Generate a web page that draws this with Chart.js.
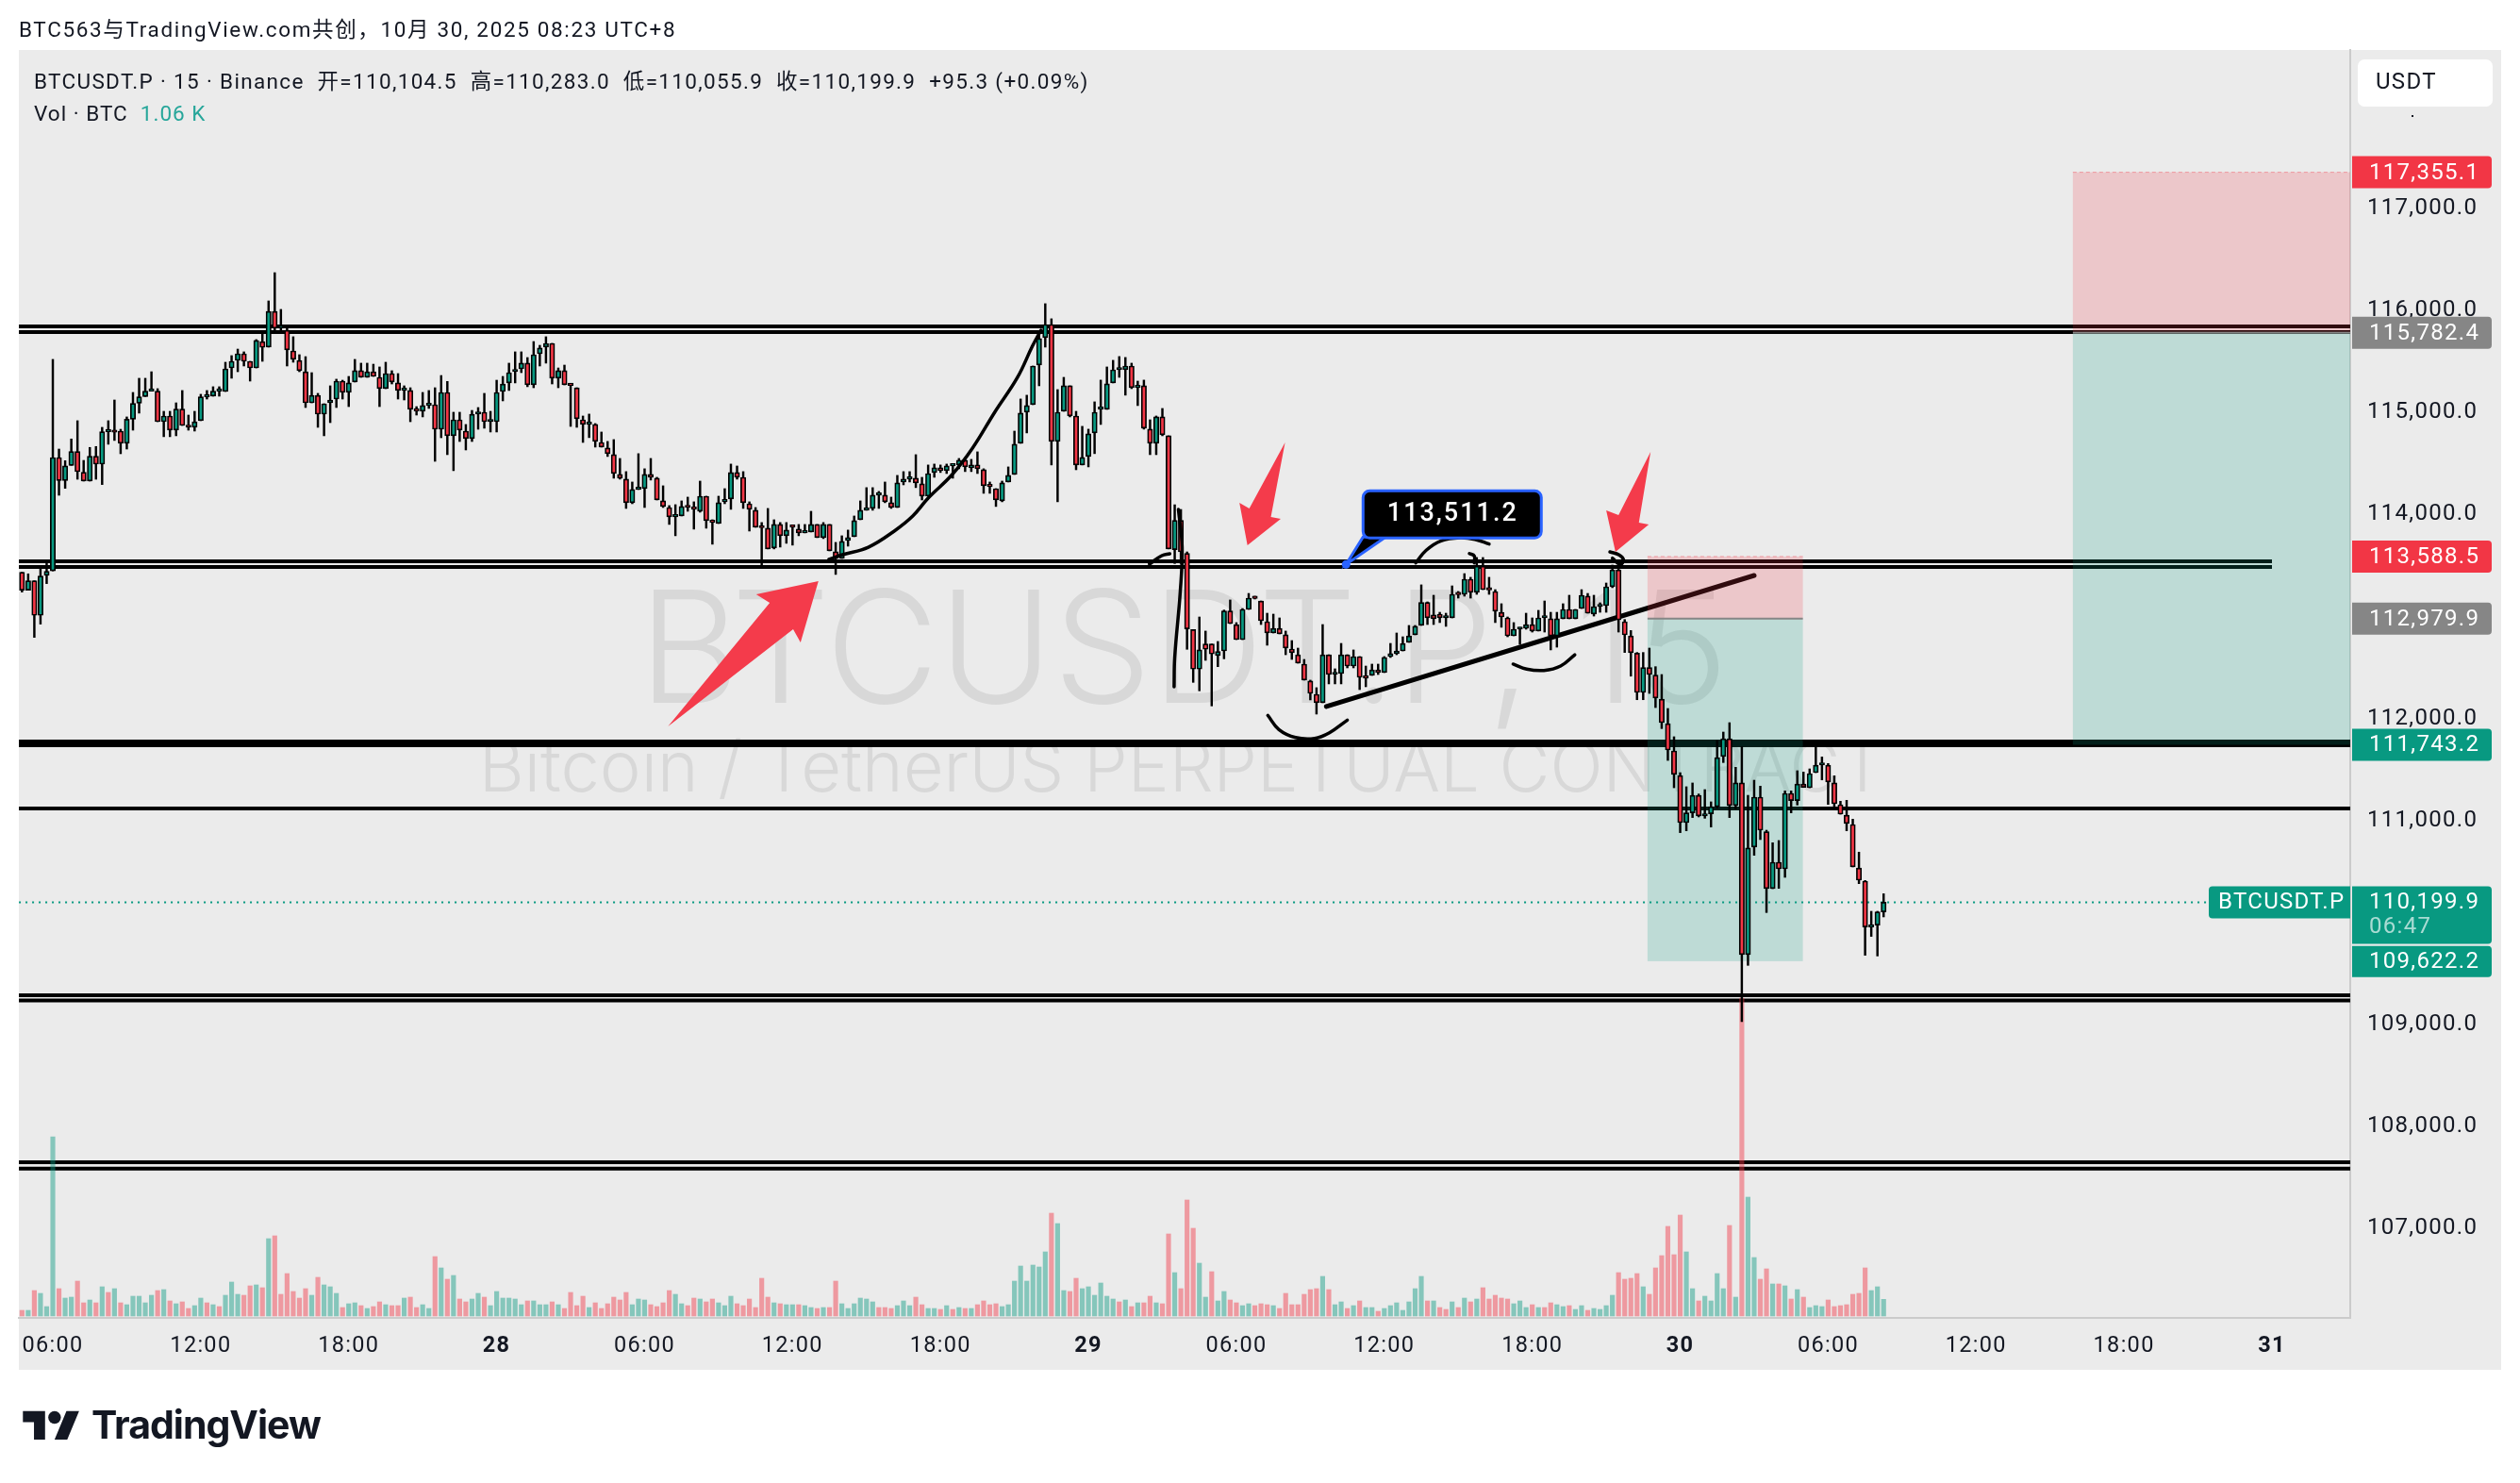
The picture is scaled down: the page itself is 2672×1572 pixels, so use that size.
<!DOCTYPE html>
<html>
<head>
<meta charset="utf-8">
<title>BTCUSDT.P 15</title>
<script src="https://cdn.jsdelivr.net/npm/chart.js"></script>
<style>
  html, body { margin: 0; padding: 0; background: #fff; width: 2672px; height: 1572px; overflow: hidden; }
  body { font-family: Roboto, "Noto Sans CJK SC", sans-serif; color: #131722; }
  canvas { position: absolute; left: 0; top: 0; }
  .txt { position: absolute; white-space: pre; line-height: 1; }
  #head { left: 20px; top: 20px; font-size: 22.5px; letter-spacing: 1.65px; }
  #legend1 { left: 36px; top: 75px; font-size: 22.5px; letter-spacing: 1.33px; }
  #legend2 { left: 36px; top: 109px; font-size: 22.5px; letter-spacing: 1px; }
  #legend2 span { color: #26a69a; }
  #logo { position: absolute; left: 24px; top: 1489px; }
  #brand { left: 97px; top: 1490px; font-family: Inter, sans-serif; font-size: 41px; font-weight: 700; letter-spacing: -1px; }
</style>
</head>
<body>
<canvas id="chart" width="2672" height="1572"></canvas>
<div class="txt" id="head">BTC563与TradingView.com共创，10月 30, 2025 08:23 UTC+8</div>
<div class="txt" id="legend1">BTCUSDT.P · 15 · Binance  开=110,104.5  高=110,283.0  低=110,055.9  收=110,199.9  +95.3 (+0.09%)</div>
<div class="txt" id="legend2">Vol · BTC  <span>1.06 K</span></div>
<svg id="logo" width="61" height="47" viewBox="0 0 36 28"><path fill="#131722" d="M14 22H7V11H0V4h14v18zM28 22h-8l7.5-18h8L28 22z"/><circle fill="#131722" cx="20" cy="8" r="4"/></svg>
<div class="txt" id="brand">TradingView</div>

<script>
// bars run from -5 (04:45 on the 27th) to 297 (08:15 on the 30th), 0 is 06:00
const firstBar = -5;

const opens = [
  113434,113258,113351,113012,113403,113447,114559,114334,114482,114618,
  114414,114328,114571,114494,114812,114818,114818,114698,114935,115092,
  115157,115209,115209,114910,114966,114827,115034,114864,114855,114920,
  115154,115160,115209,115206,115437,115511,115576,115502,115437,115696,
  115641,115992,115826,115807,115604,115511,115400,115095,115169,114984,
  115095,115132,115308,115197,115299,115410,115345,115400,115345,115234,
  115382,115290,115216,115216,115031,115012,115068,115077,114836,115197,
  114772,114929,114818,114744,114984,115003,114910,114910,115206,115290,
  115400,115428,115484,115271,115576,115641,115678,115336,115410,115271,
  115243,114929,114883,114883,114707,114652,114587,114393,114347,114116,
  114245,114254,114393,114356,114134,114069,113977,113986,114079,114069,
  114032,114180,113940,113912,114125,114153,114412,114365,114106,114042,
  113875,113866,113672,113903,113792,113880,113857,113820,113829,113903,
  113774,113903,113635,113570,113746,113783,113949,114042,114060,114190,
  114190,114116,114069,114319,114347,114356,114301,114180,114412,114458,
  114430,114476,114486,114532,114458,114486,114439,114282,114254,114134,
  114319,114393,114698,115003,115077,115466,115734,115863,114717,115012,
  115262,114966,114486,114569,114800,115031,115031,115290,115419,115419,
  115456,115244,115262,114837,114698,114957,114772,113656,113942,113619,
  112873,112485,112731,112731,112617,112663,113055,112922,112774,113070,
  113181,113153,112950,112839,112885,112821,112682,112626,112534,112368,
  112238,112155,112626,112432,112441,112626,112515,112608,112404,112423,
  112478,112451,112608,112636,112663,112747,112821,112913,113138,113015,
  113024,112987,112987,113218,113218,113366,113237,113495,113264,113246,
  113042,112987,112811,112876,112885,112922,112858,112987,112978,112811,
  112978,113070,112978,113079,113200,113024,113098,113107,113292,113458,
  112950,112811,112641,112256,112500,112426,112191,111951,111683,111442,
  110980,111076,111248,111045,111067,111137,111628,111803,111147,111369,
  109686,110740,111230,110891,110333,110592,110527,111267,111196,111359,
  111322,111470,111544,111544,111369,111156,111054,110962,110536,110407,
  109957,109976,110104.5
];
const highs = [
  113434,113419,113351,113474,113527,115521,114642,114528,114741,114920,
  114531,114658,114667,114855,114920,115123,114836,114957,115197,115336,
  115336,115400,115234,115012,115012,115095,115216,114975,115012,115179,
  115216,115253,115253,115493,115558,115622,115595,115502,115715,115789,
  116094,116371,116011,115826,115743,115567,115548,115391,115188,115086,
  115262,115327,115317,115354,115521,115484,115484,115474,115447,115493,
  115410,115382,115262,115243,115058,115197,115216,115243,115363,115305,
  115003,115003,114883,115021,115049,115188,115012,115317,115354,115484,
  115595,115595,115539,115696,115659,115743,115678,115437,115465,115275,
  115243,114966,114985,114892,114809,114717,114735,114550,114421,114319,
  114597,114449,114550,114365,114282,114088,114097,114134,114171,114125,
  114328,114180,113949,114180,114254,114495,114476,114421,114125,114069,
  113922,114060,113949,113922,113922,113894,113903,113903,114032,113903,
  113922,113903,113727,113792,113848,113986,114134,114264,114264,114227,
  114319,114171,114384,114421,114421,114587,114365,114486,114495,114486,
  114495,114486,114550,114541,114541,114615,114449,114319,114254,114328,
  114467,114818,115133,115170,115456,115761,116067,115919,115225,115345,
  115262,115012,114865,114837,115105,115318,115447,115512,115549,115540,
  115484,115308,115318,114929,114966,115040,114772,114096,114050,113634,
  112873,112996,112858,112731,112756,113064,113163,112941,113079,113227,
  113200,113153,113033,113024,112987,112858,112765,112691,112580,112377,
  112303,112922,112626,112488,112737,112626,112673,112608,112515,112534,
  112534,112608,112737,112839,112802,112913,112913,113311,113144,113209,
  113042,113033,113301,113246,113421,113385,113579,113579,113385,113264,
  113126,112996,112941,112895,113033,112987,113061,113153,113042,113042,
  113126,113209,113070,113264,113227,113209,113135,113329,113505,113495,
  112971,112863,112648,112648,112691,112509,112432,112099,111822,111470,
  111332,111369,111261,111304,111184,111785,111868,111960,111523,111723,
  111248,111396,111338,110906,110783,110805,111291,111291,111489,111476,
  111507,111723,111624,111560,111439,111190,111199,111014,110691,110413,
  110111,110111,110283
];
const lows = [
  113240,113258,112796,112926,113323,113447,114189,114257,114482,114346,
  114328,114328,114346,114294,114689,114726,114596,114642,114827,114994,
  115157,115209,114910,114763,114763,114772,114873,114827,114818,114920,
  115132,115160,115160,115206,115336,115400,115456,115308,115437,115502,
  115641,115807,115807,115456,115493,115400,115049,115095,114855,114772,
  114901,115049,115132,115058,115299,115345,115345,115354,115058,115234,
  115280,115132,115123,114910,114975,114957,115040,114522,114753,114587,
  114430,114716,114633,114716,114836,114846,114809,114809,115114,115216,
  115290,115391,115253,115243,115456,115484,115280,115243,115271,114864,
  114855,114707,114754,114661,114661,114569,114356,114347,114060,114106,
  114245,114069,114338,114143,114069,113903,113792,113986,114032,113857,
  114023,113866,113709,113912,114106,114051,114347,114060,113838,113875,
  113505,113663,113663,113681,113718,113700,113792,113820,113829,113774,
  113764,113644,113413,113570,113690,113783,113949,114042,114042,114060,
  114116,114060,114069,114291,114319,114264,114143,114180,114365,114412,
  114402,114356,114449,114421,114421,114402,114208,114208,114079,114125,
  114319,114393,114698,114800,115077,115262,115641,114486,114125,115012,
  114957,114439,114486,114467,114597,114883,115031,115290,115345,115170,
  115234,115068,114837,114587,114587,114772,113663,113520,113520,112679,
  112355,112272,112571,112124,112509,112586,112931,112774,112774,113070,
  113172,112922,112719,112839,112830,112626,112580,112543,112377,112183,
  112044,112155,112340,112340,112340,112497,112497,112284,112312,112423,
  112432,112451,112599,112626,112663,112747,112821,112913,112922,112922,
  112941,112904,112987,113181,113200,113181,113218,113264,113218,112941,
  112895,112802,112811,112728,112876,112848,112858,112848,112673,112700,
  112978,112978,112978,113079,113033,113005,113042,113042,113283,112848,
  112648,112416,112185,112185,112247,112108,111902,111590,111322,110882,
  110900,111030,111036,111023,110937,111122,111569,111030,111116,109029,
  109581,110660,110814,110099,110333,110336,110444,111076,111153,111325,
  111322,111470,111399,111159,111128,111063,110900,110546,110382,109680,
  109865,109673,110055.9
];
const closes = [
  113258,113351,113012,113397,113443,114559,114334,114476,114618,114420,
  114328,114571,114494,114812,114818,114806,114698,114935,115089,115154,
  115209,115216,114910,114966,114827,115034,114873,114855,114910,115154,
  115157,115209,115216,115428,115502,115576,115502,115437,115706,115638,
  115992,115826,115838,115613,115521,115410,115095,115169,114984,115086,
  115123,115308,115197,115290,115410,115345,115400,115354,115234,115382,
  115299,115216,115225,115031,115015,115068,115086,114836,115197,114772,
  114929,114827,114744,114984,115003,114910,114918,115197,115280,115391,
  115419,115484,115271,115567,115632,115678,115336,115410,115271,115265,
  114938,114883,114898,114717,114661,114597,114402,114356,114116,114245,
  114254,114393,114365,114143,114079,113977,113986,114079,114069,114051,
  114180,113940,113922,114116,114143,114412,114365,114116,114051,113875,
  113870,113663,113903,113792,113848,113875,113820,113829,113903,113774,
  113903,113644,113570,113737,113774,113940,114042,114060,114190,114199,
  114125,114069,114310,114347,114365,114310,114180,114402,114458,114430,
  114476,114480,114532,114467,114486,114449,114282,114273,114143,114310,
  114384,114689,114994,115068,115456,115725,115863,114717,115003,115262,
  114966,114486,114560,114791,115003,115036,115281,115419,115423,115456,
  115244,115262,114846,114698,114957,114781,113663,113942,113634,112879,
  112485,112673,112679,112633,112657,113055,112931,112774,113070,113181,
  113177,112959,112839,112885,112830,112691,112645,112543,112377,112247,
  112155,112626,112432,112440,112626,112515,112608,112404,112396,112478,
  112451,112599,112636,112663,112737,112811,112904,113138,112987,112978,
  112987,112995,113218,113214,113366,113237,113495,113264,113260,113052,
  112996,112811,112876,112885,112922,112858,112987,112996,112811,112978,
  113070,112978,113070,113209,113033,113098,113103,113292,113458,112968,
  112820,112645,112256,112500,112432,112201,111960,111692,111452,110980,
  111076,111248,111045,111060,111137,111618,111803,111147,111369,109686,
  110731,111230,110906,110333,110592,110527,111267,111196,111359,111325,
  111461,111544,111553,111378,111165,111063,110971,110546,110416,109957,
  109966,110104.5,110199.9
];
// volume in BTC, same bar order
const volumes = [
  360,360,1620,1440,600,11400,1740,1140,1200,2220,
  840,1020,840,1860,1500,1740,840,720,1260,1260,
  840,1320,1620,1680,960,780,900,480,660,1140,
  840,720,600,1320,2160,1380,1320,1920,1980,1800,
  4920,5100,1380,2700,1560,1140,1740,1320,2460,1980,
  1860,1440,540,780,840,660,480,600,900,720,
  660,660,1140,1200,540,720,480,3780,3060,2340,
  2580,1080,900,1080,1440,1200,660,1560,1140,1140,
  1080,720,960,960,720,720,900,720,480,1500,
  660,1260,540,840,480,780,1200,1020,1500,720,
  1080,1020,720,600,840,1620,1380,780,660,1140,
  1080,900,1080,840,660,1260,780,660,1080,540,
  2400,1200,840,780,720,720,720,660,540,480,
  540,540,2220,780,480,780,1140,1080,900,540,
  540,480,660,960,660,1200,720,480,480,420,
  660,420,540,480,480,720,960,720,780,600,
  720,2220,3180,2220,3240,3120,4080,6540,5880,1620,
  1560,2400,1740,1860,1320,2100,1260,1080,900,1020,
  600,840,840,1260,840,780,5220,2760,1740,7380,
  5580,3360,1200,2820,960,1560,1020,840,660,780,
  660,780,720,660,480,1440,720,720,1380,1680,
  1740,2520,1680,720,900,480,660,960,540,540,
  300,480,660,840,360,900,1740,2520,960,960,
  540,420,900,540,1140,900,1080,1800,1080,1320,
  1140,1080,780,960,540,720,540,540,840,720,
  600,660,420,660,360,480,420,660,1320,2760,
  2340,2400,2700,1860,1380,3060,3840,5700,3900,6420,
  4080,1740,960,1260,960,2700,1740,5760,1200,20220,
  7560,3720,2340,3000,2040,2040,1920,1080,1680,1200,
  540,660,600,1020,600,660,720,1380,1440,3060,
  1620,1860,1060
];
const volumeSides =
  'RGRGGGRGGR' + 'RGRGRGRGGG' + 'GGRGRGRRGG' + 'RGRGGGRRGR' + 'GRRRRRRGRG' +
  'GGRGGRGRRG' + 'RRGRRGGRGR' + 'GRRGGRGGGG' + 'GGRGGGRGRR' + 'RRGRRRRRRG' +
  'GGRRRRGGRR' + 'GRRGGGRRRR' + 'RRGRGGRGGR' + 'GRRGGGGGGR' + 'RRGGGRRGGR' +
  'GRGRGRRRRG' + 'GGGGGGGRGG' + 'RRGGGGGGRG' + 'RGRRGRRGRR' + 'RGGRGGRRGG' +
  'RRRGRRRRRR' + 'RGRGGRGRGG' + 'RGGGGGGGRG' + 'RRGRGRGRRR' + 'RRGGGRGRRG' +
  'GRGGRGGGGR' + 'RRRGRRRRRR' + 'GGRGGGGRGR' + 'GGRRGRGRGR' + 'GGGRRRRRRR' + 'GGG';

const timeLabels = ['06:00','12:00','18:00','28','06:00','12:00','18:00','29','06:00','12:00','18:00','30','06:00','12:00','18:00','31'];
const priceTicks = [107000,108000,109000,110000,111000,112000,113000,114000,115000,116000,117000];

// drawn levels, in price
const levelPrices = [115844, 115789, 111757, 111119, 109288, 109237, 107651, 107589];
const levelWidths = [4, 4, 8, 4, 4, 4, 4, 4];
const boxLevelPrices = [113542, 113486];
const boxLevelEnd = 360;

const lastPrice = 110199.9;
const priceLabel = 113511.2;
const priceLabelBar = 209.8;

// long / short position tools
const zoneBars = [[327.7, 372.7], [258.7, 283.9]];
const zoneStops = [117355.1, 113588.5];
const zoneEntries = [115782.4, 112979.9];
const zoneTargets = [111743.2, 109622.2];

const tagPrices = [117355.1, 115782.4, 113588.5, 112979.9, 111743.2];
const tagColors = ['#f23645', '#868686', '#f23645', '#868686', '#089981'];

// trend line and hand drawn strokes: [bar, price]
const trendLine = [[206.6, 112118], [276, 113403]];
const strokes = [
  [[125.9,113560],[128.1,113606],[132.3,113680],[136.5,113838],[139.5,113985],[142,114161],[145.9,114392],[149.2,114651],[152.8,115003],[156.5,115345],[158.9,115650],[160.3,115807]],
  [[182.6,114050],[183.2,113680],[182.9,113246],[182,112598],[181.9,112312]],
  [[177.9,113514],[179.9,113597],[181.2,113616]],
  [[197.1,112032],[198.9,111893],[201.6,111815],[204.7,111806],[207.1,111861],[210,111985]],
  [[221.1,113526],[222.8,113650],[225.2,113742],[228.3,113773],[230.7,113757],[233,113711]],
  [[236.9,112534],[239.1,112485],[241.9,112472],[244.6,112515],[246.9,112626]],
  [[229.8,113618],[230.6,113594],[230.6,113526]],
  [[252.6,113634],[254.1,113604],[254.8,113557],[254.3,113511],[253,113572]]
];
const arrows = [
  [[124.2,113347],[114.1,113218],[116.3,113135],[99.8,111923],[120.1,112876],[121.3,112746]],
  [[193.8,113699],[192.5,114115],[194.1,114059],[199.9,114707],[197.6,113976],[199.2,113958]],
  [[253.5,113634],[252,114041],[254,113995],[259.2,114614],[257.3,113921],[258.9,113902]]
];

const UP = '#089981', DOWN = '#f23645';
const FONT = 'Roboto, "Noto Sans CJK SC", sans-serif';
const TRACKING = '1.3px';
const fmt = v => v.toLocaleString('en-US', {minimumFractionDigits: 1, maximumFractionDigits: 1});
const barIndex = opens.map((_, i) => firstBar + i);

const levelLine = (data, width, order, extra) => Object.assign({
  type: 'line', data: data.map(p => ({x: p[0], y: p[1]})),
  borderColor: '#000', borderWidth: width, pointRadius: 0, order: order, yAxisID: 'y'
}, extra || {});

const datasets = [];
levelPrices.forEach((p, i) => datasets.push(levelLine([[-5.5, p], [372.7, p]], levelWidths[i], 10)));
boxLevelPrices.forEach(p => datasets.push(levelLine([[-5.5, p], [boxLevelEnd, p]], 4, 10)));
datasets.push(levelLine(trendLine, 5, 10, {borderCapStyle: 'round'}));
datasets.push(levelLine([[-5.5, lastPrice], [349.8, lastPrice]], 2, 4, {borderColor: UP, borderDash: [2, 5]}));
datasets.push({
  type: 'bar', id: 'volume', yAxisID: 'yv', order: 5, grouped: false, barThickness: 4.5,
  data: volumes.map((v, i) => ({x: barIndex[i], y: v})),
  backgroundColor: volumes.map((v, i) => volumeSides[i] === 'G' ? 'rgba(8,153,129,0.45)' : 'rgba(242,54,69,0.45)')
});
datasets.push({
  type: 'bar', yAxisID: 'y', order: 3, grouped: false, barThickness: 1.8, backgroundColor: '#000',
  data: highs.map((h, i) => ({x: barIndex[i], y: [lows[i], h]}))
});
datasets.push({
  type: 'bar', yAxisID: 'y', order: 2, grouped: false, barThickness: 5.4, minBarLength: 2.5,
  borderColor: '#000', borderWidth: 1.7, borderSkipped: false,
  data: opens.map((o, i) => ({x: barIndex[i], y: [o, closes[i]]})),
  backgroundColor: opens.map((o, i) => closes[i] >= o ? UP : DOWN)
});
strokes.forEach(s => datasets.push(levelLine(s, 3.5, 1, {tension: 0.4, borderCapStyle: 'round'})));

const overlay = {
  id: 'overlay',
  beforeDraw(chart) {
    const c = chart.ctx;
    c.letterSpacing = TRACKING;
    c.fillStyle = '#ebebeb';
    c.fillRect(20, 53, 2632, 1399);
  },
  beforeDatasetsDraw(chart) {
    const c = chart.ctx;
    c.save();
    c.letterSpacing = '0px';
    c.fillStyle = '#d8d8d8';
    c.textAlign = 'center';
    c.textBaseline = 'alphabetic';
    c.font = '300 165px Inter, sans-serif';
    c.fillText('BTCUSDT.P, 15', 1255, 745);
    c.font = '300 74px Inter, sans-serif';
    c.fillText('Bitcoin / TetherUS PERPETUAL CONTRACT', 1253, 839);
    c.restore();
  },
  beforeDatasetDraw(chart, args) {
    if (chart.data.datasets[args.index].id !== 'volume') return;
    const c = chart.ctx, xs = chart.scales.x, ys = chart.scales.y;
    c.save();
    zoneBars.forEach((b, i) => {
      const x0 = xs.getPixelForValue(b[0]), x1 = xs.getPixelForValue(b[1]);
      const yS = ys.getPixelForValue(zoneStops[i]), yE = ys.getPixelForValue(zoneEntries[i]), yT = ys.getPixelForValue(zoneTargets[i]);
      c.fillStyle = 'rgba(242,54,69,0.2)';
      c.fillRect(x0, yS, x1 - x0, yE - yS);
      c.fillStyle = 'rgba(8,153,129,0.2)';
      c.fillRect(x0, yE, x1 - x0, yT - yE);
      c.fillStyle = '#868686';
      c.fillRect(x0, yE - 1, x1 - x0, 2);
      c.strokeStyle = 'rgba(242,54,69,0.4)';
      c.lineWidth = 1;
      c.setLineDash([4, 3]);
      c.beginPath(); c.moveTo(x0, yS); c.lineTo(x1, yS); c.stroke();
      c.setLineDash([]);
    });
    c.restore();
  },
  afterDatasetsDraw(chart) {
    const c = chart.ctx, xs = chart.scales.x, ys = chart.scales.y;
    const px = p => [xs.getPixelForValue(p[0]), ys.getPixelForValue(p[1])];
    c.save();
    c.fillStyle = '#f43b4b';
    arrows.forEach(a => {
      c.beginPath();
      a.forEach((p, i) => { const q = px(p); i ? c.lineTo(q[0], q[1]) : c.moveTo(q[0], q[1]); });
      c.closePath();
      c.fill();
    });

    // callout with the price of the line
    const a = px([priceLabelBar, priceLabel]);
    c.strokeStyle = '#2962ff';
    c.fillStyle = '#000';
    c.lineWidth = 3;
    c.beginPath();
    c.moveTo(a[0], a[1]); c.lineTo(a[0] + 18, a[1] - 29); c.lineTo(a[0] + 42, a[1] - 29); c.closePath();
    c.fill(); c.stroke();
    c.beginPath();
    c.roundRect(a[0] + 18, a[1] - 78, 189, 50, 7);
    c.fill(); c.stroke();
    c.fillStyle = '#2962ff';
    c.beginPath(); c.arc(a[0], a[1], 4.5, 0, Math.PI * 2); c.fill();
    c.fillStyle = '#fff';
    c.font = '500 27px ' + FONT;
    c.textAlign = 'center';
    c.textBaseline = 'middle';
    c.letterSpacing = '2px';
    c.fillText(fmt(priceLabel), a[0] + 113, a[1] - 53);
    c.restore();
  },
  afterDraw(chart) {
    const c = chart.ctx, ys = chart.scales.y;
    const left = 2494, tagW = 148;
    c.save();
    c.textBaseline = 'middle';
    c.textAlign = 'left';
    c.font = '24px ' + FONT;
    const tag = (top, h, color) => {
      c.fillStyle = color;
      c.beginPath();
      c.roundRect(left, top, tagW, h, [0, 4, 4, 0]);
      c.fill();
    };
    tagPrices.forEach((p, i) => {
      const y = ys.getPixelForValue(p);
      tag(y - 17, 34, tagColors[i]);
      c.fillStyle = '#fff';
      c.fillText(fmt(p), 2512, y + 1);
    });

    // last price with countdown, then the target tag below it
    const yL = ys.getPixelForValue(lastPrice);
    tag(yL - 17, 61, UP);
    c.fillStyle = '#fff';
    c.fillText(fmt(lastPrice), 2512, yL + 1);
    c.fillStyle = 'rgba(255,255,255,0.65)';
    c.fillText('06:47', 2512, yL + 27);
    const yT = ys.getPixelForValue(zoneTargets[1]);
    tag(yT - 16, 33, UP);
    c.fillStyle = '#fff';
    c.fillText(fmt(zoneTargets[1]), 2512, yT + 1);

    // symbol label
    c.fillStyle = UP;
    c.beginPath();
    c.roundRect(2342, yL - 17, 150, 34, [4, 0, 0, 4]);
    c.fill();
    c.fillStyle = '#fff';
    c.fillText('BTCUSDT.P', 2352, yL + 1);

    // currency button
    c.fillStyle = '#fff';
    c.beginPath();
    c.roundRect(2500, 63, 143, 50, 7);
    c.fill();
    c.fillStyle = '#131722';
    c.fillText('USDT', 2519, 88);
    c.fillRect(2557, 122, 2, 2);
    c.restore();
  }
};

new Chart(document.getElementById('chart'), {
  type: 'bar',
  data: {datasets: datasets},
  plugins: [overlay],
  options: {
    responsive: false,
    animation: false,
    devicePixelRatio: 1,
    events: [],
    layout: {padding: {left: 20, right: 20, top: 53, bottom: 120}},
    plugins: {legend: {display: false}, tooltip: {enabled: false}},
    scales: {
      x: {
        type: 'linear', min: -5.51, max: 372.7, offset: false,
        afterFit: s => { s.height = 55; },
        grid: {display: false, offset: false, drawTicks: false},
        border: {display: true, color: '#cbcbcb', width: 2},
        ticks: {
          stepSize: 24, autoSkip: false, maxRotation: 0, includeBounds: false, padding: 16, color: '#131722',
          font: ctx => ({family: FONT, size: 23.5, weight: ctx.tick && /^\d\d$/.test(timeLabels[ctx.tick.value / 24]) ? 'bold' : 'normal'}),
          callback: v => timeLabels[v / 24] || ''
        }
      },
      y: {
        position: 'right', min: 106125.5, max: 118553.5,
        afterFit: s => { s.width = 160; },
        afterBuildTicks: s => { s.ticks = priceTicks.map(v => ({value: v})); },
        grid: {display: false, drawTicks: false},
        border: {display: true, color: '#cbcbcb', width: 2},
        ticks: {padding: 18, color: '#131722', font: {family: FONT, size: 24}, callback: v => fmt(v)}
      },
      yv: {position: 'right', display: false, min: -120, max: 80520}
    }
  }
});
</script>
</body>
</html>
